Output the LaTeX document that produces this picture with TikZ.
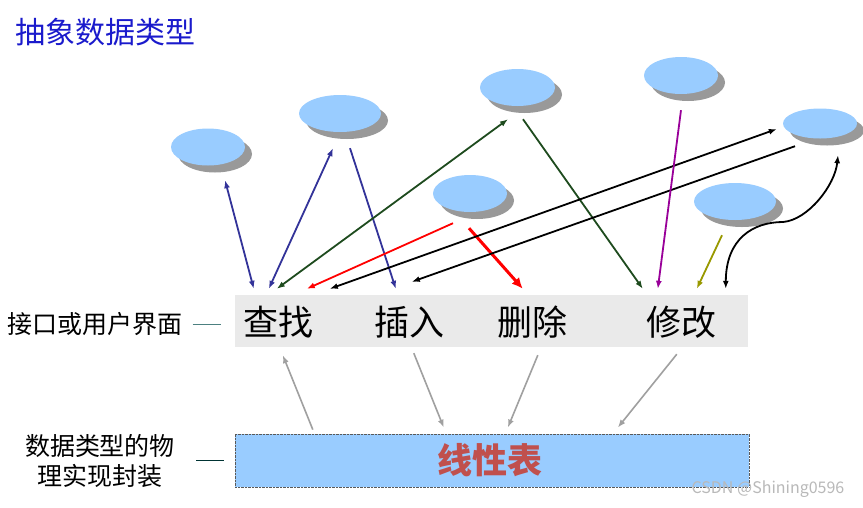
\documentclass[tikz,border=0pt]{standalone}
\usepackage{fontspec}
\setmainfont{Noto Sans CJK SC}
\usetikzlibrary{arrows.meta, positioning, shapes.geometric, shadows}

\definecolor{ovalblue}{HTML}{99CCFF}
\definecolor{shadowgray}{HTML}{999999}
\definecolor{ifacegray}{HTML}{EAEAEA}
\definecolor{linkblue}{HTML}{333399}
\definecolor{linkgreen}{HTML}{1E4B1E}
\definecolor{linkpurple}{HTML}{990099}
\definecolor{linkolive}{HTML}{999900}
\definecolor{upgray}{HTML}{A0A0A0}
\definecolor{titleblue}{HTML}{1A1ACC}
\definecolor{tablered}{HTML}{C0504D}

\tikzset{
  oval/.style={ellipse, fill=ovalblue, minimum width=74pt, minimum height=37pt, inner sep=0pt,
    drop shadow={shadow xshift=7pt, shadow yshift=-7pt, fill=shadowgray, opacity=1}},
  link/.style={line width=1.8pt, -{Latex[length=8pt,width=6pt]}},
  dlink/.style={line width=1.8pt, {Latex[length=8pt,width=6pt]}-{Latex[length=8pt,width=6pt]}},
  uplink/.style={line width=1.6pt, upgray, -{Latex[length=8pt,width=6pt]}},
  word/.style={font=\fontsize{35}{40}\selectfont, inner sep=0pt},
  side/.style={font=\fontsize{25}{30}\selectfont, align=center, inner sep=0pt},
}

\begin{document}
\begin{tikzpicture}[x=1pt, y=-1pt]
\useasboundingbox[fill=white] (0,0) rectangle (863,507);

% title
\node[font=\fontsize{30}{36}\selectfont, text=titleblue, anchor=west, inner sep=0pt] (title) at (15,32) {抽象数据类型};

% operation ovals
\node[oval] (ovA) at (208,147) {};
\node[oval, minimum width=82pt] (ovB) at (340,113.5) {};
\node[oval, minimum width=75pt] (ovC) at (517.5,87.5) {};
\node[oval] (ovD) at (470,193.5) {};
\node[oval] (ovE) at (681,75.5) {};
\node[oval, minimum height=30pt] (ovF) at (820,123.5) {};
\node[oval, minimum width=82pt] (ovG) at (735,201.5) {};

% interface bar and physical layer
\node[fill=ifacegray, minimum width=513pt, minimum height=52pt, inner sep=0pt] (iface) at (491.5,321) {};
\node[fill=ovalblue, draw=gray!70!black, densely dotted, minimum width=514pt, minimum height=53pt, inner sep=0pt] (impl) at (492,460.3) {};

\node[word] (find) at (278,322) {查找};
\node[word] (ins) at (409,322) {插入};
\node[word] (del) at (532,322) {删除};
\node[word] (mod) at (681,322) {修改};
\node[word, font=\fontsize{35}{40}\selectfont\bfseries, text=tablered] (table) at (490,460) {线性表};

% side labels
\node[side] (lblif) at (95,324) {接口或用户界面};
\node[side] (lblimpl) at (100,461) {数据类型的物\\理实现封装};
\draw[line width=1pt, gray!60!teal] ([xshift=10pt]lblif.east) -- ++(28,0);
\draw[line width=1pt, teal!40!black] ([xshift=21pt,yshift=1pt]lblimpl.east) -- ++(28,0);

% arrow ends on the interface bar
\foreach \n/\dx in {1/19, 2/34, 4/42, 6/72, 8/95, 3/161, 7/288, 5/408, 10/423, 11/462, 12/491}
  \coordinate (t\n) at ([shift={(\dx,-6)}]iface.north west);
\coordinate (t9) at ([shift={(177,-13)}]iface.north west);
\coordinate (bend) at (783,222);

% operations to interface
\draw[dlink, linkblue] ([shift={(17,14.5)}]ovA.south) -- (t1);
\draw[dlink, linkblue] ([shift={(-7,16)}]ovB.south) -- (t2);
\draw[link, linkblue] ([shift={(10,16)}]ovB.south) -- (t3);
\draw[dlink, linkgreen] ([shift={(-9.5,13)}]ovC.south) -- (t4);
\draw[link, linkgreen] ([shift={(5.5,13)}]ovC.south) -- (t5);
\draw[link, red] ([shift={(-17,11)}]ovD.south) -- (t6);
\draw[red, line width=3pt, -{Latex[length=11pt,width=10pt]}] ([shift={(-1,16)}]ovD.south) -- (t7);
\draw[dlink] ([shift={(-6,5.5)}]ovF.west) -- (t8);
\draw[link] ([shift={(-25,7.5)}]ovF.south) -- (t9);
\draw[link, linkpurple] ([shift={(0,16)}]ovE.south) -- (t10);
\draw[link, linkolive] ([shift={(-13,15)}]ovG.south) -- (t11);
\draw[dlink] (t12) .. controls +(0,-50) and +(-30,0) .. (bend)
  .. controls +(25,-2) and +(-3,30) .. ([shift={(18,16.5)}]ovF.south);

% physical layer to interface
\draw[uplink] ([shift={(78,-4)}]impl.north west) -- ([shift={(48,8)}]iface.south west);
\draw[uplink] ([shift={(179,6)}]iface.south west) -- ([shift={(209,-6)}]impl.north west);
\draw[uplink] ([shift={(303,8)}]iface.south west) -- ([shift={(273,-6)}]impl.north west);
\draw[uplink] ([shift={(442,7)}]iface.south west) -- ([shift={(383,-6)}]impl.north west);

% watermark
\node[font=\fontsize{16}{18}\selectfont, text=gray!55, inner sep=0pt] (mark) at (768,489) {CSDN @Shining0596};
\end{tikzpicture}
\end{document}
